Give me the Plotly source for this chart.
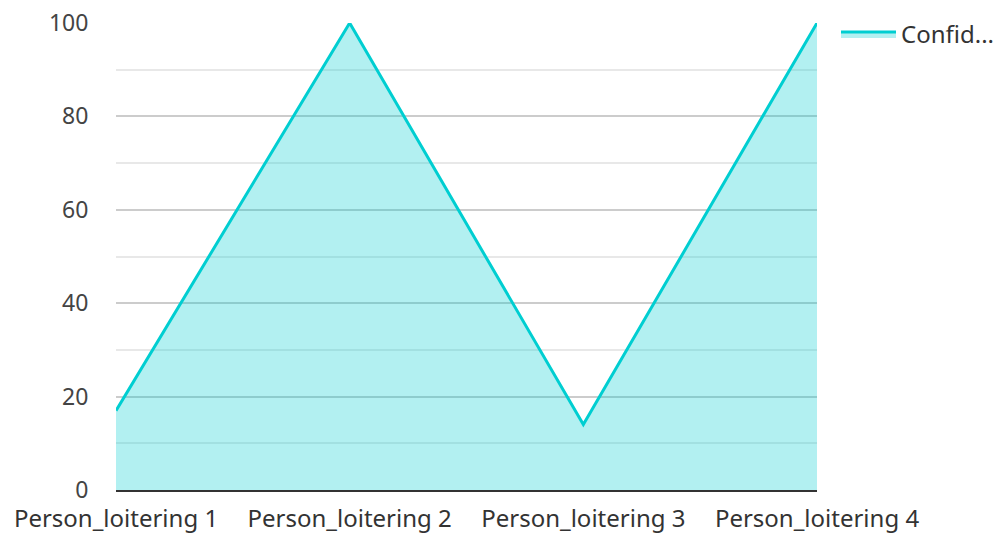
import plotly.graph_objects as go

categories = ["Person_loitering 1", "Person_loitering 2", "Person_loitering 3", "Person_loitering 4"]
confidence = [17, 100, 14, 100]
series_name = "Confid..."
y_ticks = [0, 20, 40, 60, 80, 100]

fig = go.Figure()
fig.add_trace(go.Scatter(
    x=categories, y=confidence, name=series_name, mode="lines",
    line=dict(color="#00CED1", width=3),
    fill="tozeroy", fillcolor="rgba(0,206,209,0.3)",
    showlegend=True,
))

font = "Noto Sans, Open Sans, sans-serif"
fig.update_layout(
    width=999, height=533,
    margin=dict(l=116, r=182, t=23, b=43, autoexpand=False),
    paper_bgcolor="white", plot_bgcolor="white",
    font=dict(family=font, size=23, color="#444444"),
    showlegend=True,
    legend=dict(xref="container", yref="container", x=836 / 999, y=1 - 12 / 533,
                xanchor="left", yanchor="top",
                font=dict(size=24, color="#333333"), bgcolor="rgba(0,0,0,0)",
                itemwidth=55),
    xaxis=dict(type="category", range=[0, 3], showgrid=False, automargin=False,
               showline=True, linecolor="#333333", linewidth=2,
               ticks="outside", ticklen=6, tickcolor="rgba(0,0,0,0)",
               tickfont=dict(size=24, color="#333333"), zeroline=False),
    yaxis=dict(range=[0, 100], tickvals=y_ticks, showgrid=True, automargin=False,
               gridcolor="#cccccc", gridwidth=1.5,
               minor=dict(dtick=10, showgrid=True, gridcolor="#e8e8e8", gridwidth=1.5),
               zeroline=False, showline=False,
               ticks="outside", ticklen=22, tickcolor="rgba(0,0,0,0)",
               tickfont=dict(size=23, color="#444444")),
)

fig.write_html("out.html", config={"displayModeBar": False},
               post_script="document.body.style.margin='0';document.body.style.overflow='hidden';")
